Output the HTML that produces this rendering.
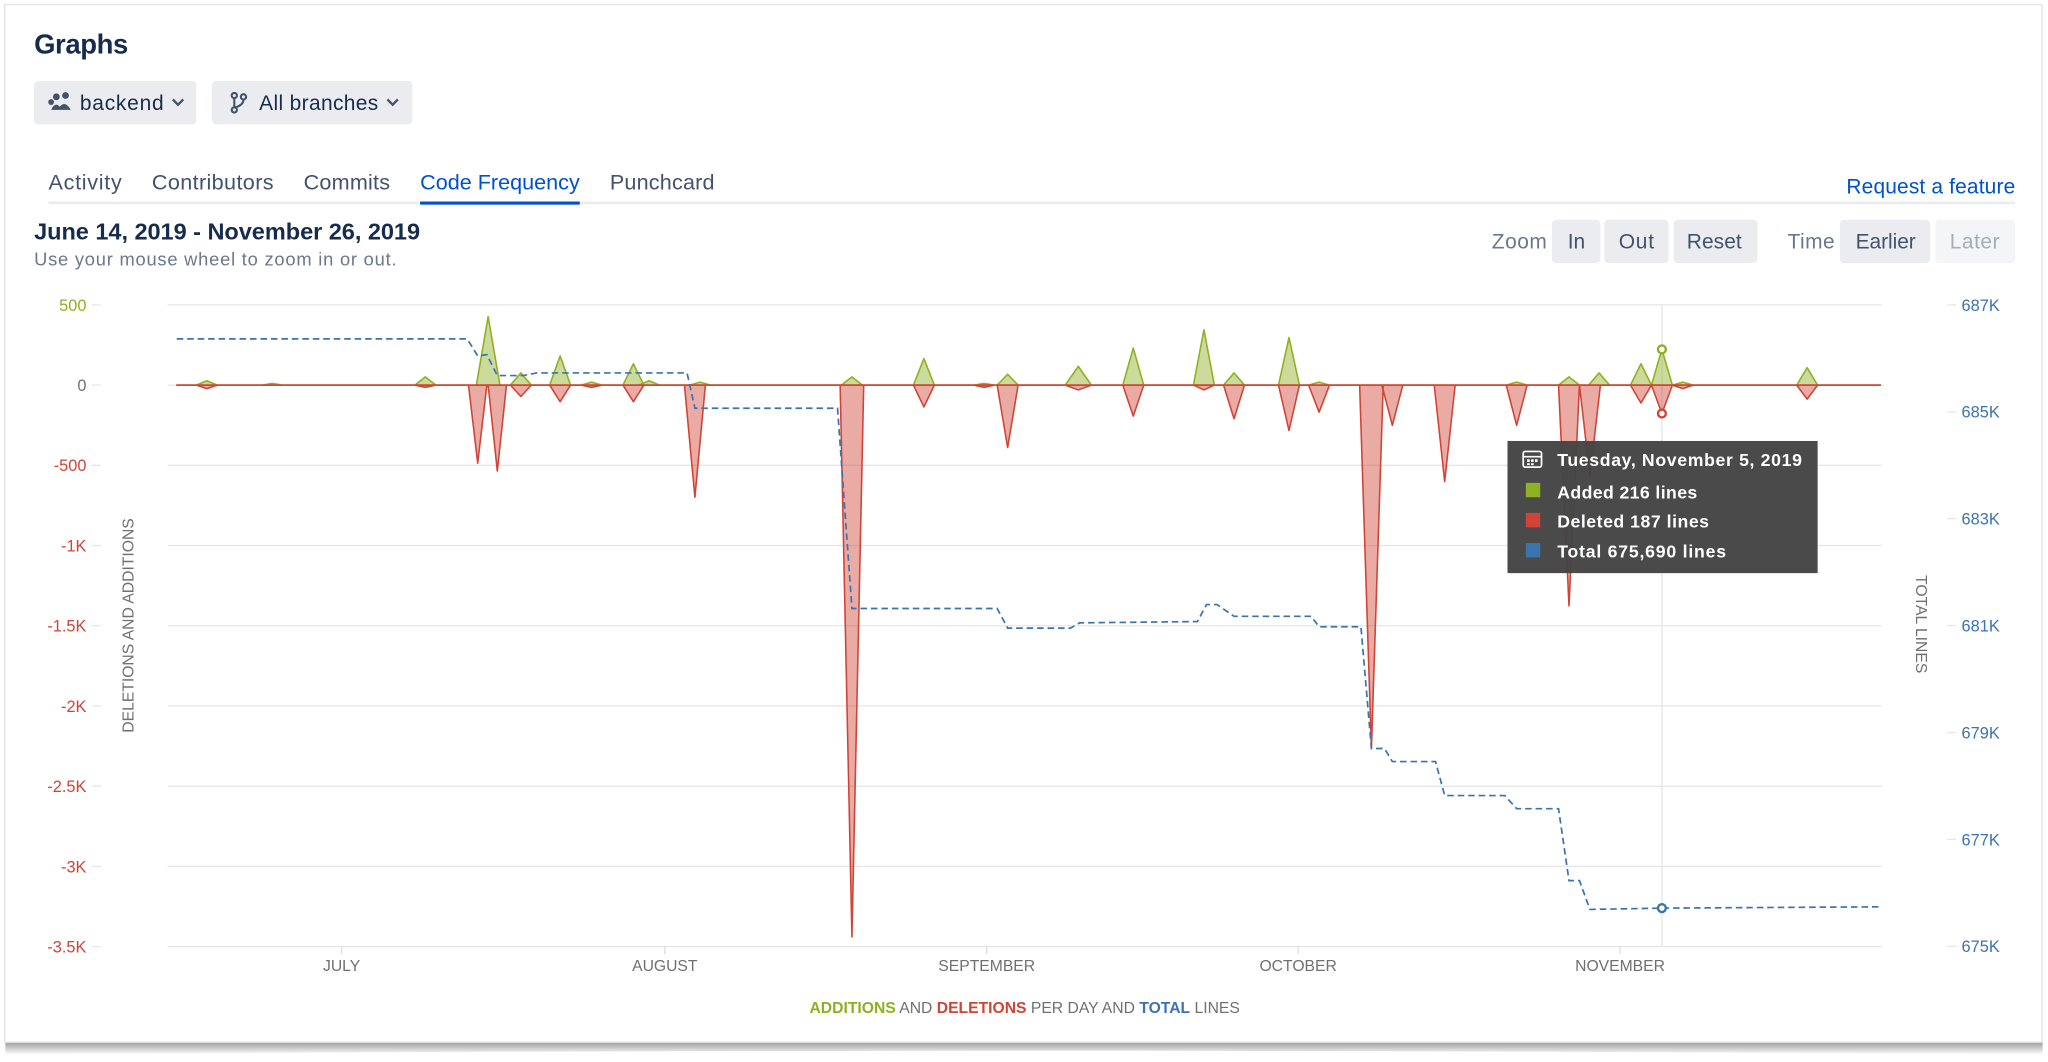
<!DOCTYPE html>
<html><head><meta charset="utf-8"><style>
html,body{margin:0;padding:0;background:#fff;width:2048px;height:1062px;overflow:hidden}
svg{display:block}
text{font-family:"Liberation Sans",Arial,sans-serif}
</style></head><body>
<svg id="s" width="2048" height="1062" viewBox="0 0 1565 811.6" xmlns="http://www.w3.org/2000/svg">
<defs>
<linearGradient id="sh" x1="0" y1="0" x2="0" y2="1"><stop offset="0" stop-color="#999"/><stop offset="1" stop-color="#fff"/></linearGradient>
</defs>
<rect x="0" y="0" width="1565" height="812" fill="#fff"/>
<path d="M4 796 L1561 796 L1561 806 Q782 800 4 806 Z" fill="url(#sh)"/>
<rect x="3.5" y="3.5" width="1557" height="793" fill="#fff" stroke="#e4e4e4"/>
<text x="26" y="41" font-size="21" font-weight="bold" fill="#172b4d" textLength="72">Graphs</text>
<rect x="26" y="62" width="124" height="33" rx="3" fill="#ebecf0"/>
<g fill="#42526e"><circle cx="43" cy="74" r="2.6"/><circle cx="50" cy="73" r="2.6"/><circle cx="39" cy="78" r="2.2"/><path d="M39 84 q4 -8 8 0 z M44 84 q5 -9 10 0 z"/></g>
<text x="61" y="84" font-size="16" fill="#172b4d" textLength="64">backend</text>
<path d="M132 76 l4 4 l4 -4" stroke="#42526e" stroke-width="1.8" fill="none"/>
<rect x="162" y="62" width="153" height="33" rx="3" fill="#ebecf0"/>
<g stroke="#42526e" stroke-width="1.6" fill="none"><circle cx="179" cy="73" r="2"/><circle cx="179" cy="84" r="2"/><circle cx="186" cy="74" r="2"/><path d="M179 75 v7 M186 76 q0 4 -6 6"/></g>
<text x="198" y="84" font-size="16" fill="#172b4d" textLength="91">All branches</text>
<path d="M296 76 l4 4 l4 -4" stroke="#42526e" stroke-width="1.8" fill="none"/>
<g font-size="16.5" fill="#42526e">
<text x="37" y="145" textLength="56">Activity</text>
<text x="116" y="145" textLength="93">Contributors</text>
<text x="232" y="145" textLength="66">Commits</text>
<text x="321" y="145" fill="#0052cc" textLength="122">Code Frequency</text>
<text x="466" y="145" textLength="80">Punchcard</text>
</g>
<rect x="37" y="154" width="1503" height="2" fill="#ebecf0"/>
<rect x="321" y="154" width="122" height="2.4" fill="#0052cc"/>
<text x="1411" y="148" font-size="16" fill="#0052cc" textLength="129">Request a feature</text>
<text x="26" y="183" font-size="18" font-weight="bold" fill="#172b4d" textLength="295">June 14, 2019 - November 26, 2019</text>
<text x="26" y="203" font-size="14" fill="#6b778c" textLength="277">Use your mouse wheel to zoom in or out.</text>
<g font-size="16">
<text x="1140" y="190" fill="#6b778c" textLength="42">Zoom</text>
<rect x="1186" y="168" width="37" height="33" rx="3" fill="#ebecf0"/><text x="1198" y="190" fill="#42526e">In</text>
<rect x="1226" y="168" width="49" height="33" rx="3" fill="#ebecf0"/><text x="1237" y="190" fill="#42526e" textLength="27">Out</text>
<rect x="1279" y="168" width="64" height="33" rx="3" fill="#ebecf0"/><text x="1289" y="190" fill="#42526e" textLength="42">Reset</text>
<text x="1366" y="190" fill="#6b778c" textLength="36">Time</text>
<rect x="1406" y="168" width="69" height="33" rx="3" fill="#ebecf0"/><text x="1418" y="190" fill="#42526e" textLength="46">Earlier</text>
<rect x="1479" y="168" width="61" height="33" rx="3" fill="#f4f5f7"/><text x="1490" y="190" fill="#a5adba" textLength="38">Later</text>
</g>
<g id="grid" stroke="#e6e6e6" stroke-width="1"></g>
<g id="lab" font-size="12.5"></g>
<g stroke="#e6e6e6"><line x1="1270" y1="233" x2="1270" y2="723"/></g>
<g id="series"></g>
<g font-size="12" fill="#707070" text-anchor="middle">
<text x="261" y="742">JULY</text><text x="508" y="742">AUGUST</text><text x="754" y="742">SEPTEMBER</text><text x="992" y="742">OCTOBER</text><text x="1238" y="742">NOVEMBER</text>
</g>
<g stroke="#ddd"><line x1="261" y1="723" x2="261" y2="729"/><line x1="508" y1="723" x2="508" y2="729"/><line x1="754" y1="723" x2="754" y2="729"/><line x1="992" y1="723" x2="992" y2="729"/><line x1="1238" y1="723" x2="1238" y2="729"/></g>
<text transform="translate(102,478) rotate(-90)" font-size="12" fill="#707070" text-anchor="middle">DELETIONS AND ADDITIONS</text>
<text transform="translate(1464,477) rotate(90)" font-size="12" fill="#707070" text-anchor="middle">TOTAL LINES</text>
<text x="783" y="774" font-size="12" text-anchor="middle"><tspan fill="#8eb021" font-weight="bold">ADDITIONS</tspan><tspan fill="#707070"> AND </tspan><tspan fill="#d04437" font-weight="bold">DELETIONS</tspan><tspan fill="#707070"> PER DAY AND </tspan><tspan fill="#3b73af" font-weight="bold">TOTAL</tspan><tspan fill="#707070">  LINES</tspan></text>
<g>
<rect x="1152" y="337" width="237" height="101" fill="#444" opacity="0.97"/>
<g stroke="#fff" stroke-width="1.3" fill="none"><rect x="1164" y="345" width="14" height="12" rx="1.5"/><line x1="1164" y1="349" x2="1178" y2="349"/></g>
<g fill="#fff"><rect x="1167" y="351" width="2" height="2"/><rect x="1170" y="351" width="2" height="2"/><rect x="1173" y="351" width="2" height="2"/><rect x="1167" y="354" width="2" height="1.5"/><rect x="1170" y="354" width="2" height="1.5"/></g>
<rect x="1166" y="369" width="11" height="11" fill="#8eb021"/>
<rect x="1166" y="392" width="11" height="11" fill="#d04437"/>
<rect x="1166" y="415" width="11" height="11" fill="#3b73af"/>
<g font-size="13.5" font-weight="bold" fill="#fff">
<text x="1190" y="356" textLength="187">Tuesday, November 5, 2019</text>
<text x="1190" y="381" textLength="107">Added 216 lines</text>
<text x="1190" y="403" textLength="116">Deleted 187 lines</text>
<text x="1190" y="426" textLength="129">Total 675,690 lines</text>
</g>
</g>
</svg>
<script>
var NS="http://www.w3.org/2000/svg";
function el(p,t,a,txt){var e=document.createElementNS(NS,t);for(var k in a)e.setAttribute(k,a[k]);if(txt!=null)e.textContent=txt;document.getElementById(p).appendChild(e);return e;}
var ly=[233,294.3,355.6,416.9,478.2,539.5,600.8,662.1,723.4];
var ll=["500","0","-500","-1K","-1.5K","-2K","-2.5K","-3K","-3.5K"];
ly.forEach(function(y,i){
 el("grid","line",{x1:128,x2:1438,y1:y,y2:y});
 el("grid","line",{x1:70,x2:77,y1:y,y2:y});
 el("lab","text",{x:66,y:y+4.5,"text-anchor":"end",fill:i==0?"#8eb021":(i==1?"#707070":"#d04437")},ll[i]);
});
var ry=[233,314.7,396.4,478.1,559.8,641.5,723.2],rl=["687K","685K","683K","681K","679K","677K","675K"];
ry.forEach(function(y,i){el("grid","line",{x1:1488,x2:1495,y1:y,y2:y});el("lab","text",{x:1499,y:y+4.5,fill:"#3b73af"},rl[i]);});
var B=294.3;
function area(sp){ // sp: [[x,y,w]]
 sp.sort(function(a,b){return a[0]-b[0]});
 var d="M135 "+B;
 sp.forEach(function(s){var w=s[2]||8;d+=" L"+(s[0]-w)+" "+B+" L"+s[0]+" "+s[1]+" L"+(s[0]+w)+" "+B;});
 d+=" L1437 "+B;
 return d;
}
var add=[[158,291],[208,293],[325,288],[373,242,9],[398,285],[428,272],[452,292],[484,278],[496,291],[535,292],[651,288],[706,274],[752,293],[770,286],[824,280,10],[866,266],[920,252],[943,285],[985,258],[1008,292],[1159,292],[1199,288],[1222,285],[1254,278],[1270,267],[1286,292],[1381,281]];
var del=[[158,297],[325,296],[365,354,7],[380,360,7],[398,303],[428,307],[452,296],[484,307],[531,380],[651,716,9],[706,311],[752,296],[770,342],[824,298,10],[866,318],[920,298],[943,320],[985,329],[1008,315],[1048,572,9],[1064,325],[1104,368],[1159,325],[1199,463,8],[1215,364,8],[1254,308],[1270,316],[1286,297],[1381,305]];
el("series","path",{d:area(add)+" Z",fill:"rgba(142,176,33,0.45)",stroke:"#8eb021","stroke-width":1.2,"stroke-linejoin":"round"});
el("series","path",{d:area(del)+" Z",fill:"rgba(208,68,55,0.45)",stroke:"#d04437","stroke-width":1.2,"stroke-linejoin":"round"});
el("series","line",{x1:135,x2:1437,y1:B,y2:B,stroke:"#d04437","stroke-width":1.2});
var tot="M135 259 L357 259 L365 272 L372 271 L380 287 L400 287 L410 285 L525 285 L531 312 L640 312 L651 465 L762 465 L770 480 L818 480 L825 476 L915 475 L922 462 L930 462 L943 471 L1002 471 L1008 479 L1040 479 L1048 572 L1058 572 L1064 582 L1097 582 L1104 608 L1150 608 L1159 618 L1191 618 L1199 673 L1207 673 L1215 695 L1270 694 L1437 693";
el("series","path",{d:tot,fill:"none",stroke:"#3b73af","stroke-width":1.3,"stroke-dasharray":"5,3"});
el("series","circle",{cx:1270,cy:267,r:3,fill:"#fff",stroke:"#8eb021","stroke-width":1.8});
el("series","circle",{cx:1270,cy:316,r:3,fill:"#fff",stroke:"#d04437","stroke-width":1.8});
el("series","circle",{cx:1270,cy:694,r:3,fill:"#fff",stroke:"#3b73af","stroke-width":1.8});
</script>
</body></html>
